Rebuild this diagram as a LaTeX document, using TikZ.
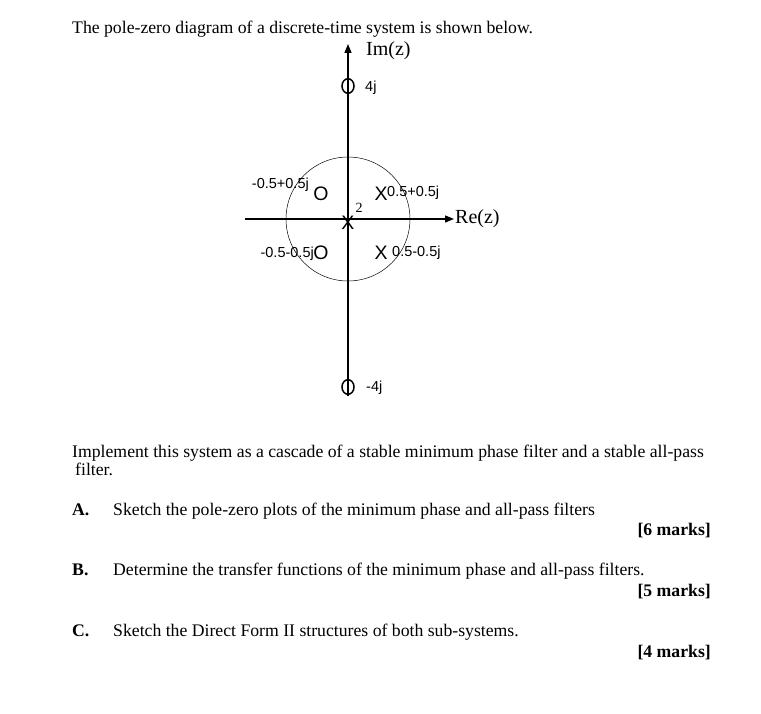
\documentclass[tikz,border=0pt]{standalone}
\usepackage{fontspec}
\setmainfont{Liberation Serif}
\newfontfamily\arialf{Liberation Sans}
\usetikzlibrary{arrows.meta}
\begin{document}
\begin{tikzpicture}[x=1pt,y=-1pt,
  txt/.style={inner sep=0pt, anchor=base west, font=\fontsize{17.7}{20}\selectfont},
  bold/.style={txt, font=\fontsize{17.7}{20}\selectfont\bfseries},
  marks/.style={inner sep=0pt, anchor=base east, font=\fontsize{17.7}{20}\selectfont\bfseries},
  lbl/.style={inner sep=0pt, font=\arialf\fontsize{14.5}{16}\selectfont},
  sym/.style={inner sep=0pt, font=\arialf\fontsize{19.5}{21}\selectfont},
  axlbl/.style={inner sep=0pt, anchor=west, font=\fontsize{20}{22}\selectfont},
  axis/.style={line width=1.4pt, -{Triangle[length=9pt,width=7pt]}}]
\useasboundingbox (0,0) rectangle (761,714);
% heading
\node[txt] (t1) at (72,34) {The pole-zero diagram of a discrete-time system is shown below.};
% axes
\coordinate (vb) at (348,396);
\coordinate (vt) at (348,44);
\coordinate (hl) at (245,219);
\coordinate (hr) at (454,219);
\coordinate (o) at (348,219);
\draw[axis] (vb) -- (vt);
\draw[axis] (hl) -- (hr);
\draw[line width=0.5pt] (o) circle[radius=62];
\node[axlbl] (im) at (366,51) {Im(z)};
\node[axlbl] (re) at (455,219) {Re(z)};
% zeros at +-4j
\draw[line width=1.5pt] (348,86) ellipse[x radius=6, y radius=7.3];
\node[lbl, anchor=west] (l4) at (365,88) {4j};
\draw[line width=1.5pt] (348,387) ellipse[x radius=6, y radius=7.3];
\node[lbl, anchor=west] (lm4) at (366,388) {-4j};
% double pole at origin
\node[sym] (p0) at (348,223) {X};
\node[inner sep=0pt, font=\fontsize{14}{15}\selectfont] (two) at (359,208) {2};
% poles
\node[sym] (p1) at (381,194) {X};
\node[lbl, anchor=west] (lp1) at (387,193) {0.5+0.5j};
\node[sym] (p2) at (381,253) {X};
\node[lbl, anchor=west] (lp2) at (392,253) {0.5-0.5j};
% zeros
\node[sym] (z1) at (321,194) {O};
\node[lbl, anchor=east] (lz1) at (309,185) {-0.5+0.5j};
\node[sym] (z2) at (321,253) {O};
\node[lbl, anchor=east] (lz2) at (314,254) {-0.5-0.5j};
% questions
\node[txt] (q1) at (72,457) {Implement this system as a cascade of a stable minimum phase filter and a stable all-pass};
\node[txt] (q2) at (75,475) {filter.};
\node[bold] (a) at (72,515) {A.};
\node[txt] (at) at (113,515) {Sketch the pole-zero plots of the minimum phase and all-pass filters};
\node[marks] (am) at (711,535) {[6 marks]};
\node[bold] (b) at (72,575) {B.};
\node[txt] (bt) at (113,575) {Determine the transfer functions of the minimum phase and all-pass filters.};
\node[marks] (bm) at (711,596) {[5 marks]};
\node[bold] (c) at (72,636) {C.};
\node[txt] (ct) at (113,636) {Sketch the Direct Form II structures of both sub-systems.};
\node[marks] (cm) at (711,657) {[4 marks]};
\end{tikzpicture}
\end{document}
